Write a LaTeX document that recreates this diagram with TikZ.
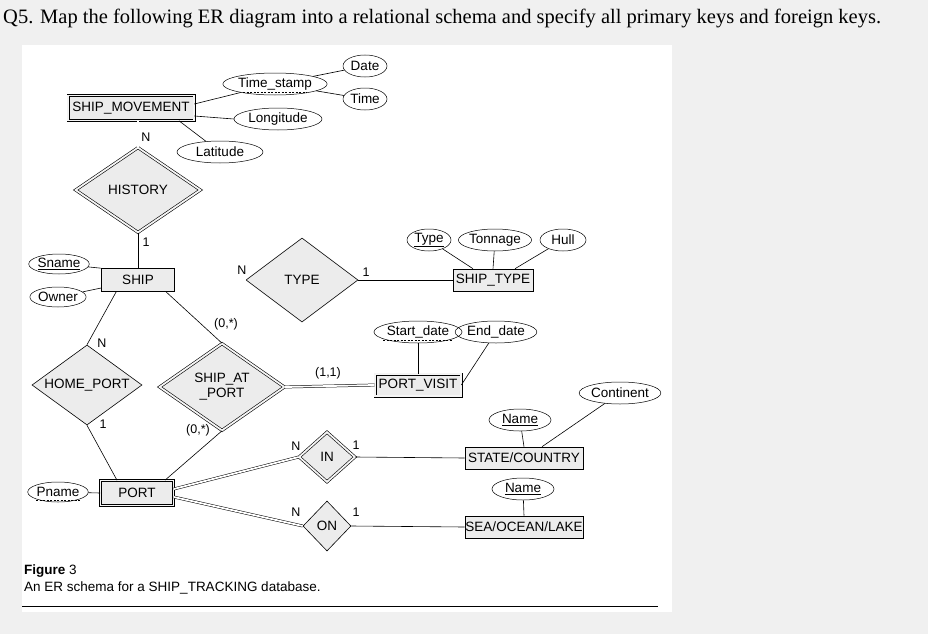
\documentclass[tikz,border=0pt]{standalone}
\usepackage{fontspec}
\setmainfont{Liberation Sans}
\newfontfamily\serifq{Liberation Serif}
\usetikzlibrary{shapes.geometric}
\begin{document}
\begin{tikzpicture}[x=1pt,y=-1pt,
  every node/.style={font=\fontsize{13.5}{15}\selectfont, inner sep=0},
  ent/.style={draw, fill=gray!15, minimum height=22, line width=0.6pt},
  went/.style={ent, double, double distance=1.8pt, double=gray!8},
  att/.style={draw, ellipse, minimum height=22, line width=0.5pt},
  rel/.style={draw, diamond, fill=gray!15, line width=0.6pt},
  wrel/.style={rel, double, double distance=1.8pt, double=gray!8},
  ln/.style={line width=0.6pt},
  dl/.style={double, double distance=1.8pt, line width=0.5pt},
  dsh/.style={line width=0.5pt, dash pattern=on 2pt off 1.5pt},
  card/.style={font=\fontsize{12.5}{14}\selectfont}]
\fill[gray!12] (0,0) rectangle (928,634);
\fill[white] (22,45) rectangle (672,612);
\useasboundingbox (0,0) rectangle (928,634);
\node[anchor=west, font=\serifq\fontsize{20.5}{23}\selectfont] (title) at (3,18) {Q5. Map the following ER diagram into a relational schema and specify all primary keys and foreign keys.};
% entities
\node[went, minimum width=126, minimum height=25] (sm) at (131,108) {SHIP\_MOVEMENT};
\node[ent, minimum width=73, minimum height=23] (ship) at (138,280) {SHIP};
\node[ent, minimum width=80] (st) at (493,280) {SHIP\_TYPE};
\node[went, minimum width=86] (pv) at (418,385) {PORT\_VISIT};
\node[ent, minimum width=118] (sc) at (524,458) {STATE/COUNTRY};
\node[ent, minimum width=118] (sea) at (524,527) {SEA/OCEAN/LAKE};
\node[went, minimum width=73, minimum height=25] (port) at (137,493) {PORT};
% relationships
\node[wrel, minimum width=125, minimum height=85, label=center:HISTORY] (hist) at (138,190) {};
\node[rel, minimum width=112, minimum height=84, label=center:TYPE] (type) at (302,280) {};
\node[rel, minimum width=110, minimum height=80, label=center:HOME\_PORT] (hp) at (87,385) {};
\node[wrel, minimum width=125, minimum height=87, label={[align=center,font=\fontsize{13.5}{15}\selectfont]center:SHIP\_AT\\\_PORT}] (sap) at (222,387) {};
\node[wrel, minimum width=56, minimum height=50, label=center:IN] (in) at (327,457) {};
\node[rel, minimum width=48, minimum height=50, label=center:ON] (on) at (327,526) {};
% attributes
\node[att, minimum width=90] (ts) at (275,84) {Time\_stamp};
\node[att, minimum width=44] (date) at (365,66) {Date};
\node[att, minimum width=44] (time) at (365,99) {Time};
\node[att, minimum width=88] (lon) at (278,119) {Longitude};
\node[att, minimum width=86] (lat) at (220,152) {Latitude};
\node[att, minimum width=48, minimum height=20] (sname) at (59,264) {\underline{Sname}};
\node[att, minimum width=48, minimum height=20] (owner) at (58,297) {Owner};
\node[att, minimum width=44] (ty) at (429,240) {\underline{Type}};
\node[att, minimum width=64] (ton) at (495,240) {Tonnage};
\node[att, minimum width=46] (hull) at (563,240) {Hull};
\node[att, minimum width=82] (sd) at (418,332) {Start\_date};
\node[att, minimum width=62] (ed) at (496,332) {End\_date};
\node[att, minimum width=64] (cont) at (620,393) {Continent};
\node[att, minimum width=62] (n1) at (520,420) {\underline{Name}};
\node[att, minimum width=62] (n2) at (523,489) {\underline{Name}};
\node[att, minimum width=52, minimum height=20] (pname) at (58,492) {Pname};
% dashed underlines
\draw[dsh] ([shift={(-32,8)}]ts.center) -- ([shift={(32,8)}]ts.center);
\draw[dsh] ([shift={(-35,8)}]sd.center) -- ([shift={(35,8)}]sd.center);
\draw[dsh] ([shift={(-22,8)}]pname.center) -- ([shift={(22,8)}]pname.center);
% connectors
\draw[dl] (sm.south -| hist.north) -- (hist.north);
\draw[ln] (hist.south) -- (ship.north);
\draw[dl] (ship.east) -- (type.west);
\draw[ln] (type.east) -- (st.west);
\draw[ln] ([xshift=15]ship.south west) coordinate (a1) -- (hp.north);
\draw[ln] (hp.south) -- ([xshift=-20]port.north);
\draw[ln] ([xshift=28]ship.south) coordinate (a2) -- (sap.north);
\draw[ln] (sap.south) -- ([xshift=28]port.north);
\draw[dl] (sap.east) -- (pv.west);
\draw[dl] ([yshift=4]port.east) -- (in.west);
\draw[dl] ([yshift=-4]port.east) -- (on.west);
\draw[ln] (in.east) -- (sc.west);
\draw[ln] (on.east) -- (sea.west);
\draw[ln] ([yshift=4]sm.east) -- (ts);
\draw[ln] (ts) -- (date);
\draw[ln] (ts) -- (time);
\draw[ln] ([yshift=-8]sm.east) -- (lon.west);
\draw[ln] ([xshift=48]sm.south) -- (lat);
\draw[ln] (sname) -- (ship.north west);
\draw[ln] (owner) -- ([yshift=-8]ship.west);
\draw[ln] (ty) -- ([xshift=-20]st.north);
\draw[ln] (ton) -- (st.north);
\draw[ln] (hull) -- ([xshift=22]st.north);
\draw[ln] (sd) -- (pv.north);
\draw[ln] (ed) -- (pv.east);
\draw[ln] (n1) -- (sc.north);
\draw[ln] (cont) -- ([xshift=18]sc.north);
\draw[ln] (n2) -- (sea.north);
\draw[ln] (pname) -- (port.west);
% cardinalities
\node[card] (c1) at (146,137) {N};
\node[card] (c2) at (146,242) {1};
\node[card] (c3) at (242,270) {N};
\node[card] (c4) at (366,272) {1};
\node[card] (c5) at (226,324) {(0,*)};
\node[card] (c6) at (102,343) {N};
\node[card] (c7) at (103,424) {1};
\node[card] (c8) at (198,430) {(0,*)};
\node[card] (c9) at (328,373) {(1,1)};
\node[card] (c10) at (296,446) {N};
\node[card] (c11) at (356,445) {1};
\node[card] (c12) at (296,512) {N};
\node[card] (c13) at (356,512) {1};
% caption
\node[anchor=west] (fig) at (24,571) {\textbf{Figure} 3};
\node[anchor=west] (cap) at (24,588) {An ER schema for a SHIP\_TRACKING database.};
\draw[line width=0.6pt] (22,606) -- (658,606);
\end{tikzpicture}
\end{document}
